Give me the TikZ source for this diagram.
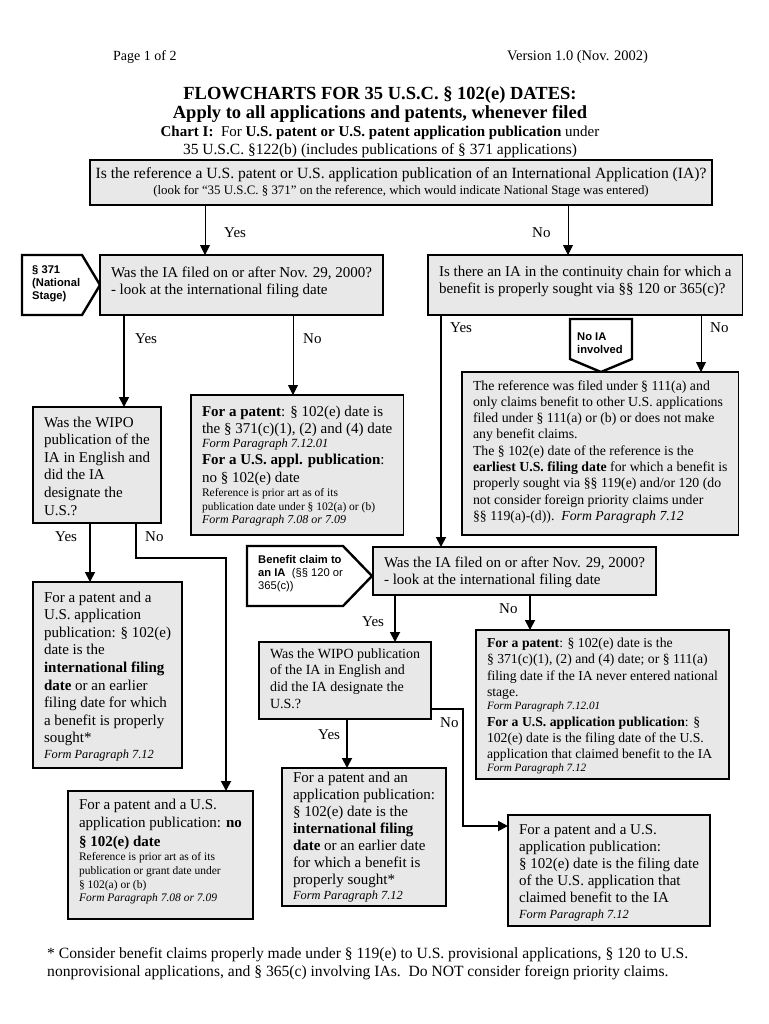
\documentclass[tikz,border=0pt]{standalone}
\usepackage{fontspec}
\setmainfont{Liberation Serif}
\setsansfont{Liberation Sans}
\usetikzlibrary{arrows.meta}
\definecolor{boxfill}{RGB}{232,232,232}
\newcommand{\tbx}[4]{\parbox[c][#2][t]{#1}{\vspace*{\dimexpr#3-\baselineskip\relax}\hbox{}#4}}
\newcommand{\lne}[1]{\hbox{#1}}
\newcommand{\cln}[1]{\hbox to\hsize{\hfil#1\hfil}}
\newcommand{\fsz}[2]{\fontsize{#1}{#2}\selectfont}
\tikzset{
 box/.style={draw, line width=1.6pt, fill=boxfill, anchor=north west, inner xsep=11pt, inner ysep=0pt, outer sep=0pt, font=\fsz{15}{17.3}},
 tagshape/.style={draw, line width=2.4pt, fill=white, line join=miter},
 tagtext/.style={anchor=north west, inner sep=0pt, font=\sffamily\bfseries\fsz{11.2}{13}},
 lbl/.style={anchor=west, inner sep=0pt, font=\fsz{15}{17}},
 thinarr/.style={line width=0.9pt, -{Triangle[length=10pt,width=10pt]}},
 thickarr/.style={line width=1.8pt, -{Triangle[length=10pt,width=10pt]}},
 hdr/.style={anchor=base, inner sep=0pt},
}
\begin{document}
\begin{tikzpicture}[x=1pt,y=-1pt]
\fill[white] (0,0) rectangle (768,1024);
\useasboundingbox (0,0) rectangle (768,1024);

% header
\node[anchor=base west, inner sep=0pt, font=\fsz{14}{16}] (page) at (113,61) {Page 1 of 2};
\node[anchor=base west, inner sep=0pt, font=\fsz{14.5}{16}] (version) at (507,61) {Version 1.0 (Nov. 2002)};
\node[hdr, font=\bfseries\fsz{18.5}{20}] (title1) at (380,100) {FLOWCHARTS FOR 35 U.S.C. § 102(e) DATES:};
\node[hdr, font=\bfseries\fsz{18.5}{20}] (title2) at (380,119) {Apply to all applications and patents, whenever filed};
\node[hdr, font=\fsz{15}{17}] (title3) at (380,137) {\textbf{Chart I:}\ \ For \textbf{U.S. patent or U.S. patent application publication} under};
\node[hdr, font=\fsz{15.5}{17}] (title4) at (380,155) {35 U.S.C. §122(b) (includes publications of § 371 applications)};

% tags
\draw[tagshape] (22,255) -- (82,255) -- (100,285) -- (82,315) -- (22,315) -- cycle;
\node[tagtext] (tag371) at (32,255) {\tbx{50pt}{60pt}{18pt}{\lne{§ 371}\lne{(National}\lne{Stage)}}};
\draw[tagshape] (570,319) -- (632,319) -- (632,359) -- (601,372) -- (570,359) -- cycle;
\node[tagtext] (tagnoia) at (577,319) {\tbx{50pt}{40pt}{21pt}{\lne{No IA}\lne{involved}}};
\draw[tagshape] (247,546) -- (343,546) -- (372,576) -- (343,606) -- (247,606) -- cycle;
\node[tagtext] (tagben) at (258,546) {\tbx{100pt}{60pt}{17pt}{\lne{Benefit claim to}\lne{an IA\ \ \mdseries(§§ 120 or}\lne{\mdseries 365(c))}}};

% boxes
\node[box, inner xsep=2pt] (top) at (90,160) {\tbx{618pt}{45pt}{19pt}{\fsz{15.6}{17.3}\cln{Is the reference a U.S. patent or U.S. application publication of an International Application (IA)?}\fsz{12.9}{16}\cln{(look for “35 U.S.C. § 371” on the reference, which would indicate National Stage was entered)}}};

\node[box] (qA) at (100,255) {\tbx{276pt}{60pt}{22pt}{\lne{Was the IA filed on or after Nov. 29, 2000?}\lne{- look at the international filing date}}};

\node[box] (qB) at (428,255) {\tbx{295pt}{60pt}{21pt}{\lne{Is there an IA in the continuity chain for which a}\lne{benefit is properly sought via §§ 120 or 365(c)?}}};

\node[box, font=\fsz{15}{17.6}] (w1) at (33,407) {\tbx{115pt}{116pt}{20pt}{\lne{Was the WIPO}\lne{publication of the}\lne{IA in English and}\lne{did the IA}\lne{designate the}\lne{U.S.?}}};

\node[box, font=\fsz{15}{17}] (p1) at (191,395) {\tbx{183pt}{140pt}{21pt}{\lne{\textbf{For a patent}: § 102(e) date is}\lne{the § 371(c)(1), (2) and (4) date}\fsz{12.5}{14}\itshape\lne{Form Paragraph 7.12.01}\fsz{15}{17}\upshape\lne{\textbf{For a U.S. appl. publication}:}\fsz{15}{18}\lne{no § 102(e) date}\fsz{11.5}{14}\lne{Reference is prior art as of its}\lne{publication date under § 102(a) or (b)}\fsz{12}{13}\itshape\lne{Form Paragraph 7.08 or 7.09}}};

\node[box, font=\fsz{13.8}{16.3}] (r2) at (462,372) {\tbx{261pt}{163pt}{18pt}{\lne{The reference was filed under § 111(a) and}\lne{only claims benefit to other U.S. applications}\lne{filed under § 111(a) or (b) or does not make}\lne{any benefit claims.}\lne{The § 102(e) date of the reference is the}\lne{\textbf{earliest U.S. filing date} for which a benefit is}\lne{properly sought via §§ 119(e) and/or 120 (do}\lne{not consider foreign priority claims under}\lne{§§ 119(a)-(d)).\ \ \textit{Form Paragraph 7.12}}}};

\node[box] (qC) at (373,547) {\tbx{305pt}{48pt}{20pt}{\lne{Was the IA filed on or after Nov. 29, 2000?}\lne{- look at the international filing date}}};

\node[box, font=\fsz{14}{16.8}] (w2) at (259,642) {\tbx{149pt}{77pt}{16pt}{\lne{Was the WIPO publication}\lne{of the IA in English and}\lne{did the IA designate the}\lne{U.S.?}}};

\node[box, font=\fsz{13.7}{16.6}] (p2) at (476,630) {\tbx{240pt}{149pt}{17pt}{\lne{\textbf{For a patent}: § 102(e) date is the}\lne{§ 371(c)(1), (2) and (4) date; or § 111(a)}\lne{filing date if the IA never entered national}\lne{stage.}\fsz{11.2}{13}\itshape\lne{Form Paragraph 7.12.01}\fsz{13.7}{16.3}\upshape\lne{\textbf{For a U.S. application publication}: §}\lne{102(e) date is the filing date of the U.S.}\lne{application that claimed benefit to the IA}\fsz{11.2}{13}\itshape\lne{Form Paragraph 7.12}}};

\node[box, font=\fsz{15}{17.6}] (l1) at (33,582) {\tbx{126pt}{186pt}{20pt}{\lne{For a patent and a}\lne{U.S. application}\lne{publication: § 102(e)}\lne{date is the}\lne{\textbf{international filing}}\lne{\textbf{date} or an earlier}\lne{filing date for which}\lne{a benefit is properly}\lne{sought*}\fsz{12.4}{16}\itshape\lne{Form Paragraph 7.12}}};

\node[box, font=\fsz{15}{18.5}] (l2) at (68,791) {\tbx{171pt}{128pt}{18pt}{\lne{For a patent and a U.S.}\lne{application publication: \textbf{no}}\lne{\textbf{§ 102(e) date}}\fsz{11.5}{14}\lne{Reference is prior art as of its}\lne{publication or grant date under}\lne{§ 102(a) or (b)}\fsz{11.5}{13.5}\itshape\lne{Form Paragraph 7.08 or 7.09}}};

\node[box, font=\fsz{15}{17}] (c1) at (282,768) {\tbx{138pt}{138pt}{14pt}{\lne{For a patent and an}\lne{application publication:}\lne{§ 102(e) date is the}\lne{\textbf{international filing}}\lne{\textbf{date} or an earlier date}\lne{for which a benefit is}\lne{properly sought*}\fsz{12.4}{15}\itshape\lne{Form Paragraph 7.12}}};

\node[box, font=\fsz{15}{17}] (br) at (508,815) {\tbx{182pt}{111pt}{19pt}{\lne{For a patent and a U.S.}\lne{application publication:}\lne{§ 102(e) date is the filing date}\lne{of the U.S. application that}\lne{claimed benefit to the IA}\fsz{12.4}{16}\itshape\lne{Form Paragraph 7.12}}};

% footnote
\node[anchor=base west, inner sep=0pt, font=\fsz{15.6}{18}] (fn1) at (47,958) {* Consider benefit claims properly made under § 119(e) to U.S. provisional applications, § 120 to U.S.};
\node[anchor=base west, inner sep=0pt, font=\fsz{15.6}{18}] (fn2) at (47,976) {nonprovisional applications, and § 365(c) involving IAs.\ \ Do NOT consider foreign priority claims.};

% connectors
\coordinate (x205) at (205,0);
\coordinate (x568) at (568,0);
\coordinate (x124) at (124,0);
\coordinate (x293) at (293,0);
\coordinate (x441) at (441,0);
\coordinate (x701) at (701,0);
\coordinate (x90) at (90,0);
\coordinate (x136) at (136,0);
\coordinate (x395) at (395,0);
\coordinate (x530) at (530,0);
\coordinate (x347) at (347,0);
\coordinate (w1no) at (226,558);
\coordinate (w2y) at (0,709);
\coordinate (w2no) at (463,826);

\draw[thinarr] (top.south -| x205) -- (qA.north -| x205);
\draw[thinarr] (top.south -| x568) -- (qB.north -| x568);
\draw[thickarr] (qA.south -| x124) -- (w1.north -| x124);
\draw[thinarr] (qA.south -| x293) -- (p1.north -| x293);
\draw[thickarr] (qB.south -| x441) -- (qC.north -| x441);
\draw[thinarr] (qB.south -| x701) -- (r2.north -| x701);
\draw[thickarr] (w1.south -| x90) -- (l1.north -| x90);
\draw[thickarr] (w1.south -| x136) |- (w1no) -- (l2.north -| w1no);
\draw[thickarr] (qC.south -| x395) -- (w2.north -| x395);
\draw[thickarr] (qC.south -| x530) -- (p2.north -| x530);
\draw[thickarr] (w2.south -| x347) -- (c1.north -| x347);
\draw[thickarr] (w2.east |- w2y) -| (w2no) -- (br.west |- w2no);

% labels
\node[lbl] (yes1) at (224,233) {Yes};
\node[lbl] (no1) at (532,233) {No};
\node[lbl] (yes2) at (135,339) {Yes};
\node[lbl] (no2) at (303,339) {No};
\node[lbl] (yes3) at (450,328) {Yes};
\node[lbl] (no3) at (710,328) {No};
\node[lbl] (yes4) at (55,537) {Yes};
\node[lbl] (no4) at (145,537) {No};
\node[lbl] (yes5) at (362,622) {Yes};
\node[lbl] (no5) at (499,609) {No};
\node[lbl] (yes6) at (318,735) {Yes};
\node[lbl] (no6) at (440,723) {No};
\end{tikzpicture}
\end{document}
